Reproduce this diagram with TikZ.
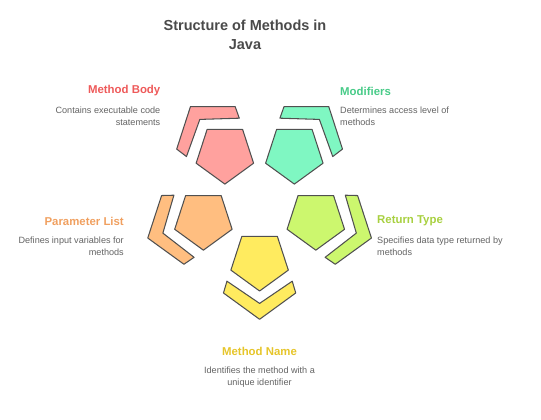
\documentclass[tikz,border=0pt]{standalone}
\usepackage{fontspec}
\setmainfont{Liberation Sans}
\usetikzlibrary{calc}
\definecolor{fred}{HTML}{FFA19E}
\definecolor{fgrn}{HTML}{7FF7C2}
\definecolor{forg}{HTML}{FFBE80}
\definecolor{flim}{HTML}{CCF76E}
\definecolor{fyel}{HTML}{FFEB5F}
\definecolor{tred}{HTML}{EE5A5A}
\definecolor{tgrn}{HTML}{48CB88}
\definecolor{torg}{HTML}{F0A060}
\definecolor{tlim}{HTML}{A8D040}
\definecolor{tyel}{HTML}{E6C52A}
\definecolor{tgray}{HTML}{636363}
\definecolor{tdark}{HTML}{4A4A4A}
\definecolor{edge}{HTML}{505050}
\tikzset{
  piece/.style={draw=edge,line width=1.05pt,line join=round},
  head/.style={font=\bfseries\fontsize{11.4}{14}\selectfont,inner sep=0pt},
  desc/.style={font=\fontsize{9.1}{12}\selectfont,text=tgray,inner sep=0pt},
  ttl/.style={font=\bfseries\fontsize{14.5}{18.5}\selectfont,text=tdark,align=center,inner sep=0pt}
}
\begin{document}
\begin{tikzpicture}[x=1pt,y=1pt]
\useasboundingbox (0,0) rectangle (541,420);
\coordinate (O) at (259.6,218.3);
\foreach \a/\c in {-90/fyel,-18/flim,54/fgrn,126/fred,198/forg}{
  \begin{scope}[shift={($(O)+(\a:59.1)$)}]
    \draw[piece,fill=\c] (\a:30.2) -- (\a+72:30.2) -- (\a+144:30.2) -- (\a+216:30.2) -- (\a+288:30.2) -- cycle;
    \draw[piece,fill=\c] (\a+58:38.5) -- (\a:42.6) -- (\a-58:38.5) -- (\a-48.3:48.4) -- (\a:58.5) -- (\a+48.3:48.4) -- cycle;
  \end{scope}
}
\node[ttl] (title) at (245,385) {Structure of Methods in\\Java};
% Method Body
\node[head,text=tred,anchor=east] (hbody) at (160.5,329) {Method Body};
\node[desc,anchor=north east,align=right] (dbody) at (160.5,313.5) {Contains executable code\\statements};
% Modifiers
\node[head,text=tgrn,anchor=west] (hmod) at (340,329) {Modifiers};
\node[desc,anchor=north west,align=left] (dmod) at (340,313.5) {Determines access level of\\methods};
% Parameter List
\node[head,text=torg,anchor=east] (hpar) at (124,199) {Parameter List};
\node[desc,anchor=north east,align=right] (dpar) at (124,183.5) {Defines input variables for\\methods};
% Return Type
\node[head,text=tlim,anchor=west] (hret) at (377,199) {Return Type};
\node[desc,anchor=north west,align=left] (dret) at (377,183.5) {Specifies data type returned by\\methods};
% Method Name
\node[head,text=tyel] (hname) at (259.5,68.5) {Method Name};
\node[desc,anchor=north,align=center] (dname) at (259.5,53.5) {Identifies the method with a\\unique identifier};
\end{tikzpicture}
\end{document}
